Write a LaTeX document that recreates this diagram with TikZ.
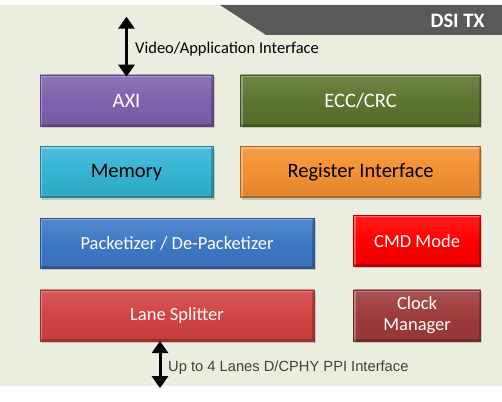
\documentclass[tikz,border=0pt]{standalone}
\usepackage{fontspec}
\setmainfont{Carlito}
\newfontfamily\arialfont{Liberation Sans}
\usetikzlibrary{positioning,shadows,arrows.meta}

\definecolor{bgcol}{HTML}{EBEEDF}
\definecolor{bannercol}{HTML}{595959}
\definecolor{axicol}{HTML}{7F62AD}
\definecolor{ecccol}{HTML}{5C752F}
\definecolor{memcol}{HTML}{35B4D4}
\definecolor{regcol}{HTML}{F39032}
\definecolor{pktcol}{HTML}{3D78C6}
\definecolor{cmdcol}{HTML}{FF0000}
\definecolor{lanecol}{HTML}{D34343}
\definecolor{clkcol}{HTML}{9E3B3B}
\definecolor{lblcol}{HTML}{404040}

\begin{document}
\begin{tikzpicture}[x=1pt, y=-1pt, node distance=20pt,
  blk/.style={draw=#1!70!black, line width=0.6pt, top color=#1!88!white, bottom color=#1!92!black, middle color=#1,
    minimum height=51pt, inner sep=0pt, align=center, text=white, font=\fontsize{20.5}{23}\selectfont,
    drop shadow={shadow xshift=1.5pt, shadow yshift=-2pt, opacity=0.35},
    path picture={
      \draw[white, opacity=0.3, line width=4pt] (path picture bounding box.south west) -- (path picture bounding box.north west) -- (path picture bounding box.north east);
      \draw[black, opacity=0.2, line width=4pt] (path picture bounding box.north east) -- (path picture bounding box.south east) -- (path picture bounding box.south west);}},
  small/.style={font=\fontsize{18.5}{21}\selectfont},
  dblarrow/.style={arrows={Triangle[width=16pt,length=12pt]-Triangle[width=16pt,length=12pt]}, line width=3pt, black}]
% background and banner
\fill[white] (0,0) rectangle (502,401);
\fill[bgcol] (0,5) rectangle (502,386);
\fill[bannercol] (220,5) -- (502,5) -- (502,35) -- (266,35) -- cycle;
\node[anchor=base east, text=white, font=\bfseries\fontsize{20.5}{23}\selectfont] (title) at (488.3,28) {DSI TX};
% blocks
\node[blk=axicol, minimum width=173pt] (axi) at (126.5,100.5) {AXI};
\node[blk=ecccol, minimum width=240pt, right=27pt of axi] (ecc) {ECC/CRC};
\node[blk=memcol, minimum width=173pt, text=black, below=of axi] (mem) {Memory};
\node[blk=regcol, minimum width=240pt, text=black, below=of ecc] (reg) {Register Interface};
\node[blk=pktcol, small, minimum width=274pt, minimum height=50pt, below=of mem.south west, anchor=north west] (pkt) {Packetizer / De-Packetizer};
\node[blk=cmdcol, small, minimum width=127pt, below=17pt of reg.south east, anchor=north east] (cmd) {CMD Mode};
\node[blk=lanecol, small, minimum width=274pt, below=21pt of pkt.south west, anchor=north west] (lane) {Lane Splitter};
\node[blk=clkcol, small, minimum width=127pt, below=23pt of cmd.south west, anchor=north west] (clk) {Clock\\Manager};
% interfaces
\coordinate[above=58pt of axi.north] (video);
\draw[dblarrow] ([yshift=-2pt]axi.north) -- (video);
\node[anchor=base west, font=\fontsize{16.5}{18}\selectfont] (videolbl) at (131.7,53.5) {Video/Application Interface};
\coordinate (lanebot) at ([xshift=-17pt]lane.south);
\coordinate[below=47pt of lanebot] (ppi);
\draw[dblarrow] (lanebot) -- (ppi);
\node[anchor=base west, text=lblcol, font=\arialfont\fontsize{14.7}{17}\selectfont] (ppilbl) at (164.7,371.5) {Up to 4 Lanes D/CPHY PPI Interface};
\end{tikzpicture}
\end{document}
